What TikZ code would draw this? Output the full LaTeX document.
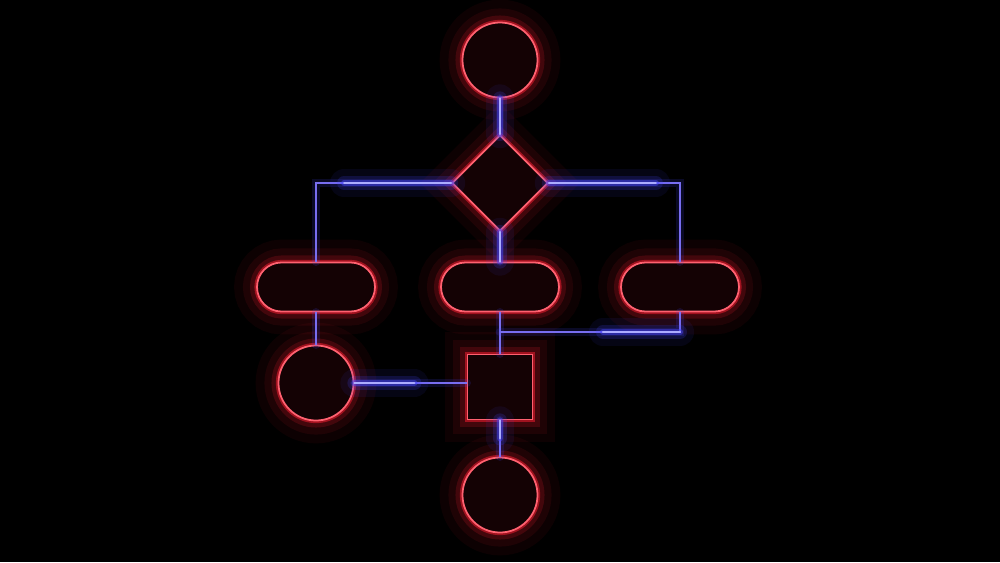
\documentclass[tikz,border=0pt]{standalone}
\usepackage{xcolor}
\usepackage{tikz}
\usetikzlibrary{shapes.geometric, shapes.misc, positioning, calc}
\definecolor{neonred}{RGB}{255,30,50}
\definecolor{neonblue}{RGB}{70,70,255}
\definecolor{wireblue}{RGB}{120,110,240}

\begin{document}
\begin{tikzpicture}[
    x=0.2mm, y=-0.2mm,
    neon/.style={draw=neonred!70!white, line width=1pt, fill=neonred!8!black, inner sep=0pt,
        preaction={draw=neonred, line width=26pt, opacity=0.05},
        preaction={draw=neonred, line width=16pt, opacity=0.08},
        preaction={draw=neonred, line width=8pt, opacity=0.16},
        preaction={draw=neonred, line width=3pt, opacity=0.5}},
    startstop/.style={neon, circle, minimum size=15mm},
    decision/.style={neon, diamond, aspect=1, minimum width=19.2mm, minimum height=19.2mm},
    process/.style={neon, rounded rectangle, minimum width=23.6mm, minimum height=9.8mm},
    square/.style={neon, rectangle, minimum width=13mm, minimum height=13mm},
    flow/.style={draw=wireblue, line width=0.7pt, line cap=round,
        preaction={draw=neonblue, line width=5pt, opacity=0.15, line cap=round}},
    pulse/.style={draw=white!55!neonblue, line width=1.3pt, line cap=round,
        preaction={draw=neonblue, line width=16pt, opacity=0.08, line cap=round},
        preaction={draw=neonblue, line width=8pt, opacity=0.18, line cap=round},
        preaction={draw=neonblue, line width=3.5pt, opacity=0.45, line cap=round}}
]
    % Background
    \fill[black] (0,0) rectangle (1000,562);
    \useasboundingbox (0,0) rectangle (1000,562);

    % Shapes
    \node[startstop] (start) at (500,60) {};
    \node[decision] (dec) at (500,183) {};
    \node[process] (left) at (316,287) {};
    \node[process] (mid) at (500,287) {};
    \node[process] (right) at (680,287) {};
    \node[startstop] (lcirc) at (316,383) {};
    \node[square] (box) at (500,387) {};
    \node[startstop] (end) at (500,495) {};
    \coordinate (join) at (500,332);

    % Connections
    \draw[flow] (start) -- (dec);
    \draw[flow] (dec.west) -| (left);
    \draw[flow] (dec) -- (mid);
    \draw[flow] (dec.east) -| (right);
    \draw[flow] (left) -- (lcirc);
    \draw[flow] (lcirc.east) -- (lcirc.east -| box.west);
    \draw[flow] (mid) -- (box);
    \draw[flow] (join) -| (right);
    \draw[flow] (box) -- (end);

    % Bright pulses
    \draw[pulse] (start) -- (dec);
    \draw[pulse] ($(dec.west)+(-107,0)$) -- (dec.west);
    \draw[pulse] (dec.east) -- ($(dec.east)+(107,0)$);
    \draw[pulse] (dec) -- (mid);
    \draw[pulse] (lcirc.east) -- ($(lcirc.east)+(60,0)$);
    \draw[pulse] ($(join)+(103,0)$) -- ($(join)+(180,0)$);
    \draw[pulse] (box) -- ($(box.south)+(0,18)$);
\end{tikzpicture}
\end{document}
